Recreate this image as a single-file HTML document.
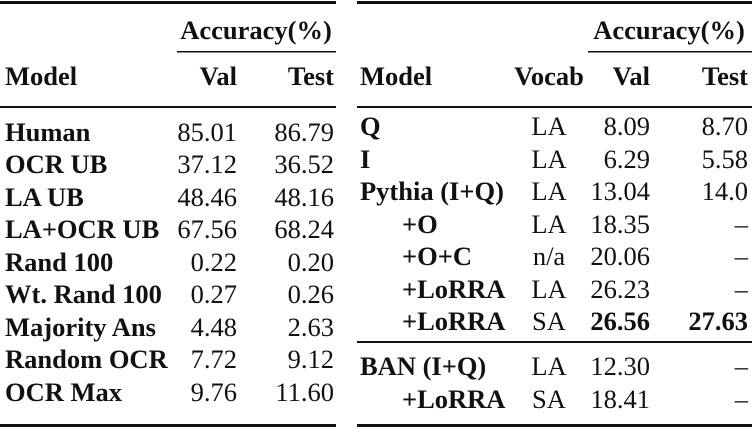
<!DOCTYPE html>
<html><head><style>
html,body{margin:0;padding:0;background:#fff;}
svg text{font-family:"Liberation Serif","Times New Roman",serif;font-size:26.5px;fill:#111;}
.b{font-weight:bold;}
</style></head><body>
<svg width="752" height="429" viewBox="0 0 752 429" xmlns="http://www.w3.org/2000/svg">
<!-- left table -->
<rect x="0" y="1" width="336" height="3" fill="#111"/>
<rect x="177" y="51" width="159" height="1.5" fill="#111"/>
<rect x="0" y="106" width="336" height="2" fill="#111"/>
<rect x="0" y="424" width="336" height="3" fill="#111"/>
<text class="b" x="256" y="39" text-anchor="middle">Accuracy(%)</text>
<text class="b" x="5" y="85">Model</text>
<text class="b" x="237" y="85" text-anchor="end">Val</text>
<text class="b" x="334" y="85" text-anchor="end">Test</text>
<g>
<text class="b" x="5" y="141">Human</text><text x="237" y="141" text-anchor="end">85.01</text><text x="334" y="141" text-anchor="end">86.79</text>
<text class="b" x="5" y="173">OCR UB</text><text x="237" y="173" text-anchor="end">37.12</text><text x="334" y="173" text-anchor="end">36.52</text>
<text class="b" x="5" y="206">LA UB</text><text x="237" y="206" text-anchor="end">48.46</text><text x="334" y="206" text-anchor="end">48.16</text>
<text class="b" x="5" y="238">LA+OCR UB</text><text x="237" y="238" text-anchor="end">67.56</text><text x="334" y="238" text-anchor="end">68.24</text>
<text class="b" x="5" y="271">Rand 100</text><text x="237" y="271" text-anchor="end">0.22</text><text x="334" y="271" text-anchor="end">0.20</text>
<text class="b" x="5" y="303">Wt. Rand 100</text><text x="237" y="303" text-anchor="end">0.27</text><text x="334" y="303" text-anchor="end">0.26</text>
<text class="b" x="5" y="336">Majority Ans</text><text x="237" y="336" text-anchor="end">4.48</text><text x="334" y="336" text-anchor="end">2.63</text>
<text class="b" x="5" y="368">Random OCR</text><text x="237" y="368" text-anchor="end">7.72</text><text x="334" y="368" text-anchor="end">9.12</text>
<text class="b" x="5" y="401">OCR Max</text><text x="237" y="401" text-anchor="end">9.76</text><text x="334" y="401" text-anchor="end">11.60</text>
</g>
<!-- right table -->
<rect x="357" y="1" width="395" height="3" fill="#111"/>
<rect x="588" y="51" width="164" height="1.5" fill="#111"/>
<rect x="357" y="106" width="395" height="2" fill="#111"/>
<rect x="357" y="341" width="395" height="2" fill="#111"/>
<rect x="357" y="424" width="395" height="3" fill="#111"/>
<text class="b" x="669" y="39" text-anchor="middle">Accuracy(%)</text>
<text class="b" x="360" y="85">Model</text>
<text class="b" x="549" y="85" text-anchor="middle">Vocab</text>
<text class="b" x="650" y="85" text-anchor="end">Val</text>
<text class="b" x="748" y="85" text-anchor="end">Test</text>
<g>
<text class="b" x="360" y="135">Q</text><text x="549" y="135" text-anchor="middle">LA</text><text x="650" y="135" text-anchor="end">8.09</text><text x="748" y="135" text-anchor="end">8.70</text>
<text class="b" x="360" y="168">I</text><text x="549" y="168" text-anchor="middle">LA</text><text x="650" y="168" text-anchor="end">6.29</text><text x="748" y="168" text-anchor="end">5.58</text>
<text class="b" x="360" y="200">Pythia (I+Q)</text><text x="549" y="200" text-anchor="middle">LA</text><text x="650" y="200" text-anchor="end">13.04</text><text x="748" y="200" text-anchor="end">14.0</text>
<text class="b" x="402" y="233">+O</text><text x="549" y="233" text-anchor="middle">LA</text><text x="650" y="233" text-anchor="end">18.35</text><text x="748" y="233" text-anchor="end">–</text>
<text class="b" x="402" y="265">+O+C</text><text x="549" y="265" text-anchor="middle">n/a</text><text x="650" y="265" text-anchor="end">20.06</text><text x="748" y="265" text-anchor="end">–</text>
<text class="b" x="402" y="298">+LoRRA</text><text x="549" y="298" text-anchor="middle">LA</text><text x="650" y="298" text-anchor="end">26.23</text><text x="748" y="298" text-anchor="end">–</text>
<text class="b" x="402" y="330">+LoRRA</text><text x="549" y="330" text-anchor="middle">SA</text><text class="b" x="650" y="330" text-anchor="end">26.56</text><text class="b" x="748" y="330" text-anchor="end">27.63</text>
<text class="b" x="360" y="375">BAN (I+Q)</text><text x="549" y="375" text-anchor="middle">LA</text><text x="650" y="375" text-anchor="end">12.30</text><text x="748" y="375" text-anchor="end">–</text>
<text class="b" x="402" y="408">+LoRRA</text><text x="549" y="408" text-anchor="middle">SA</text><text x="650" y="408" text-anchor="end">18.41</text><text x="748" y="408" text-anchor="end">–</text>
</g>
</svg>
</body></html>
